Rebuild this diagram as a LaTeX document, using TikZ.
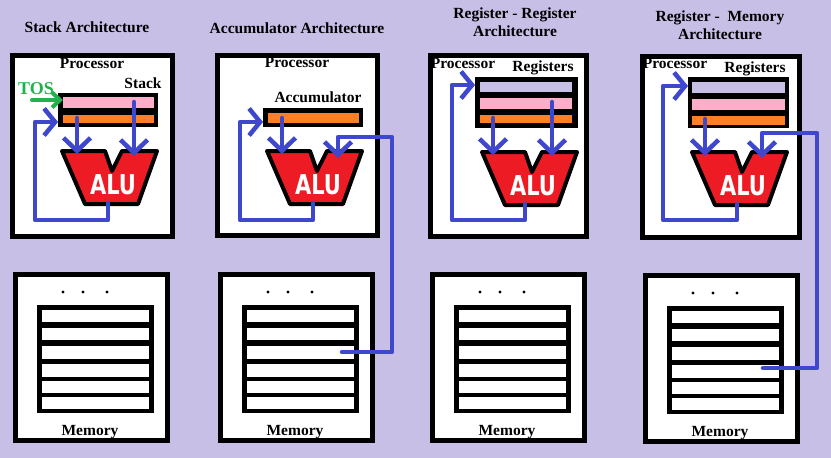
\documentclass[tikz,border=0pt]{standalone}
\usepackage{fontspec}
\setmainfont{Liberation Serif}
\newfontfamily\alufont{DejaVu Sans}
\usetikzlibrary{arrows.meta}
\definecolor{bgc}{HTML}{C8BFE7}
\definecolor{wireblue}{HTML}{3F48CC}
\definecolor{alured}{HTML}{ED1C24}
\definecolor{regorange}{HTML}{FF7F27}
\definecolor{regpink}{HTML}{FFAEC9}
\definecolor{reglav}{HTML}{C8BFE7}
\definecolor{tosgreen}{HTML}{22B14C}
\tikzset{
  box/.style={draw=black, line width=5pt, fill=white, inner sep=0pt},
  cell/.style={draw=none, inner sep=0pt, outer sep=0pt},
  wire/.style={draw=wireblue, line width=4.5pt, line join=round, line cap=round},
  tipd/.style={-{Straight Barb[length=13pt,width=27pt]}},
  tipr/.style={-{Straight Barb[length=11pt,width=27pt]}},
  lbl/.style={font=\bfseries\fontsize{15.5}{16}\selectfont, inner sep=0pt, anchor=base},
  ttl/.style={font=\bfseries\fontsize{15.5}{18}\selectfont, inner sep=0pt, anchor=base, align=center},
  alutxt/.style={font=\alufont\bfseries\fontsize{21}{21}\selectfont, text=white, inner sep=0pt},
  pics/alu/.style={code={
    \draw[black, line width=4pt, fill=alured, line join=round]
      (0,0) -- (43,0) -- (50,20) -- (60,0) -- (95,0) -- (76,53) -- (23,53) -- cycle;
    \node[alutxt] (-t) at (51,34) {\scalebox{1}[1.3]{ALU}};
  }}
}
\newcommand\memunit[3]{%
  \begin{scope}[shift={(#2,#3)}]
    \node[box, minimum width=152pt, minimum height=166pt] (#1) at (91.5,357.5) {};
    \foreach \xx in {63,83,107} \fill (\xx,292) circle (1.6);
    \node[cell, fill=black, minimum width=117pt, minimum height=108pt] (#1g) at (95.5,359) {};
    \foreach \i/\yy in {1/316,2/334,3/352.5,4/370.5,5/387,6/403}
      \node[cell, fill=white, minimum width=107pt, minimum height=12.5pt] (#1r\i) at (95.5,\yy) {};
    \node[lbl] (#1l) at (90,435) {Memory};
  \end{scope}}
\begin{document}
\begin{tikzpicture}[x=1pt,y=-1pt]
\fill[bgc] (0,0) rectangle (831,458);
\useasboundingbox (0,0) rectangle (831,458);

% titles
\node[ttl] (t1) at (87,32) {Stack Architecture};
\node[ttl] (t2) at (297,33) {Accumulator Architecture};
\node[ttl] (t3) at (515,36) {Register - Register\\Architecture};
\node[ttl] (t4) at (720,39) {Register -\ \ Memory\\Architecture};

% processor boxes
\node[box, minimum width=160pt, minimum height=181pt] (p1) at (92.5,146) {};
\node[box, minimum width=160pt, minimum height=180pt] (p2) at (297.5,145.5) {};
\node[box, minimum width=156pt, minimum height=181pt] (p3) at (508.5,146) {};
\node[box, minimum width=157pt, minimum height=181pt] (p4) at (721,147) {};

% labels
\node[lbl] (pl1) at (92,68) {Processor};
\node[lbl] (sl1) at (143,88) {Stack};
\node[lbl, text=tosgreen, font=\bfseries\fontsize{18}{18}\selectfont] (tos) at (36,94) {TOS};
\node[lbl] (pl2) at (297,67) {Processor};
\node[lbl] (al2) at (318,102) {Accumulator};
\node[lbl] (pl3) at (463,68) {Processor};
\node[lbl] (rl3) at (543,71) {Registers};
\node[lbl] (pl4) at (675,68) {Processor};
\node[lbl] (rl4) at (755,72) {Registers};

% register blocks
\node[cell, fill=black, minimum width=100pt, minimum height=34pt] (s1) at (108,110) {};
\node[cell, fill=regpink, minimum width=91pt, minimum height=11pt] (s1p) at (108.5,102.5) {};
\node[cell, fill=regorange, minimum width=91pt, minimum height=8pt] (s1o) at (108.5,119) {};

\node[cell, fill=black, minimum width=100pt, minimum height=19pt] (s2) at (313,117.5) {};
\node[cell, fill=regorange, minimum width=91pt, minimum height=10pt] (s2o) at (313.5,118) {};

\node[cell, fill=black, minimum width=103pt, minimum height=51pt] (s3) at (526.5,102.5) {};
\node[cell, fill=reglav, minimum width=92pt, minimum height=10pt] (s3l) at (526,87) {};
\node[cell, fill=regpink, minimum width=92pt, minimum height=11pt] (s3p) at (526,103.5) {};
\node[cell, fill=regorange, minimum width=92pt, minimum height=8pt] (s3o) at (526,119) {};

\node[cell, fill=black, minimum width=101pt, minimum height=51pt] (s4) at (738.5,102.5) {};
\node[cell, fill=reglav, minimum width=93pt, minimum height=11pt] (s4l) at (738.5,87.5) {};
\node[cell, fill=regpink, minimum width=93pt, minimum height=11pt] (s4p) at (738.5,104.5) {};
\node[cell, fill=regorange, minimum width=93pt, minimum height=9pt] (s4o) at (738.5,120) {};

% ALUs
\pic (alu1) at (62,151) {alu};
\pic (alu2) at (267,151) {alu};
\pic (alu3) at (482,152) {alu};
\pic (alu4) at (692,152) {alu};

% memories
\memunit{m1}{0}{0}
\memunit{m2}{205}{0}
\memunit{m3}{417}{0}
\memunit{m4}{630}{1}

% coordinates
\coordinate (a1s) at (77,118);   \coordinate (a1e) at (77,154);
\coordinate (b1s) at (134,102);  \coordinate (b1e) at (134,156);
\coordinate (f1a) at (108,203);  \coordinate (f1b) at (35,220);  \coordinate (f1e) at (58,122);
\coordinate (g1s) at (32,100);   \coordinate (g1e) at (63,100);

\coordinate (a2s) at (282,118);  \coordinate (a2e) at (282,154);
\coordinate (f2a) at (313,203);  \coordinate (f2b) at (240,220); \coordinate (f2e) at (263,122);
\coordinate (k2a) at (342,352);  \coordinate (k2b) at (392,137); \coordinate (k2c) at (338,158);

\coordinate (a3s) at (493,118);  \coordinate (a3e) at (493,155);
\coordinate (b3s) at (552,102);  \coordinate (b3e) at (552,156);
\coordinate (f3a) at (525,204);  \coordinate (f3b) at (452,220); \coordinate (f3e) at (475,85);

\coordinate (a4s) at (705,119);  \coordinate (a4e) at (705,156);
\coordinate (f4a) at (737,204);  \coordinate (f4b) at (663,220); \coordinate (f4e) at (688,86);
\coordinate (k4a) at (763,368);  \coordinate (k4b) at (817,133); \coordinate (k4c) at (762,158);

% connectors
\draw[wire,tipd] (a1s) -- (a1e);
\draw[wire,tipd] (b1s) -- (b1e);
\draw[wire,tipr] (f1a) |- (f1b) |- (f1e);
\draw[draw=tosgreen, line width=4pt, line cap=round, -{Straight Barb[length=8pt,width=15pt]}] (g1s) -- (g1e);

\draw[wire,tipd] (a2s) -- (a2e);
\draw[wire,tipr] (f2a) |- (f2b) |- (f2e);
\draw[wire,tipd] (k2a) -| (k2b) -| (k2c);

\draw[wire,tipd] (a3s) -- (a3e);
\draw[wire,tipd] (b3s) -- (b3e);
\draw[wire,tipr] (f3a) |- (f3b) |- (f3e);

\draw[wire,tipd] (a4s) -- (a4e);
\draw[wire,tipr] (f4a) |- (f4b) |- (f4e);
\draw[wire,tipd] (k4a) -| (k4b) -| (k4c);
\end{tikzpicture}
\end{document}
